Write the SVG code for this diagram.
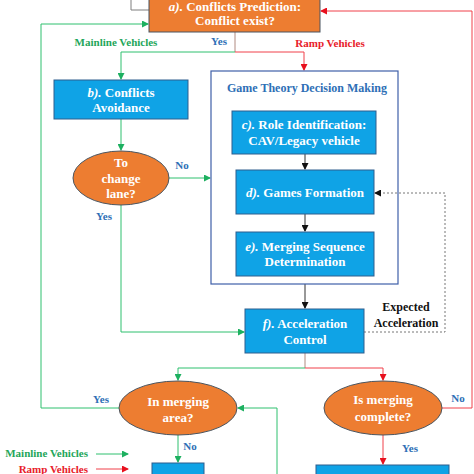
<svg xmlns="http://www.w3.org/2000/svg" width="474" height="474" viewBox="0 0 474 474">
<defs>
<style>
.t{font-family:"Liberation Serif","Times New Roman",serif;font-weight:bold;}
.w{fill:#ffffff;font-size:13px;text-anchor:middle;}
.i{font-style:italic;}
.blue{fill:#0FA3E6;stroke:#2E5E8E;stroke-width:1;}
.or{fill:#ED7D31;stroke:#4A5560;stroke-width:1;}
.g{fill:none;stroke:#2EC06E;stroke-width:1;}
.r{fill:none;stroke:#F0404A;stroke-width:1;}
.k{fill:none;stroke:#333333;stroke-width:1;}
.lb{fill:#2E6FB6;font-size:11px;}
</style>
<marker id="ag" markerWidth="7" markerHeight="7" refX="6" refY="3.5" orient="auto" markerUnits="userSpaceOnUse"><path d="M0,0 L7,3.5 L0,7 z" fill="#1DB060"/></marker>
<marker id="ar" markerWidth="7" markerHeight="7" refX="6" refY="3.5" orient="auto" markerUnits="userSpaceOnUse"><path d="M0,0 L7,3.5 L0,7 z" fill="#E8101E"/></marker>
<marker id="ak" markerWidth="7" markerHeight="7" refX="6" refY="3.5" orient="auto" markerUnits="userSpaceOnUse"><path d="M0,0 L7,3.5 L0,7 z" fill="#111111"/></marker>
</defs>
<rect width="474" height="474" fill="#ffffff"/>
<g id="connectors">
<path d="M131,0 V10 H149" fill="none" stroke="#7F7F7F" stroke-width="1"/>
<path class="g" d="M119,408 H41 V24 H148" marker-end="url(#ag)"/>
<path class="r" d="M442,408 H472 V11 H321" marker-end="url(#ar)"/>
<path d="M235,32 V52" fill="none" stroke="#B08A80" stroke-width="1"/>
<path class="g" d="M235,52 H121 V79" marker-end="url(#ag)"/>
<path class="r" d="M235,52 H304 V70" marker-end="url(#ar)"/>
<path class="g" d="M121,119 V150" marker-end="url(#ag)"/>
<path class="g" d="M169,178 H210" marker-end="url(#ag)"/>
<path class="g" d="M121,205 V332 H244" marker-end="url(#ag)"/>
<path class="k" d="M305,154 V169" marker-end="url(#ak)"/>
<path class="k" d="M305,214 V231" marker-end="url(#ak)"/>
<path class="k" d="M305,284 V308" marker-end="url(#ak)"/>
<path d="M364,332 H445 V193 H375" fill="none" stroke="#777777" stroke-width="1" stroke-dasharray="2,2" marker-end="url(#ak)"/>
<path d="M305,353 V368" fill="none" stroke="#B08A80" stroke-width="1"/>
<path class="g" d="M305,368 H178 V380" marker-end="url(#ag)"/>
<path class="r" d="M305,368 H383 V380" marker-end="url(#ar)"/>
<path class="g" d="M178,435 V462" marker-end="url(#ag)"/>
<path class="g" d="M277,474 V408 H238" marker-end="url(#ag)"/>
<path class="r" d="M383,435 V464" marker-end="url(#ar)"/>
<path class="g" d="M96,454 H128" marker-end="url(#ag)"/>
<path class="r" d="M96,469 H128" marker-end="url(#ar)"/>
</g>
<g id="labels" class="t">
<text x="116" y="46" font-size="11" fill="#1FA65A" text-anchor="middle">Mainline Vehicles</text>
<text class="lb" x="219" y="45" text-anchor="middle">Yes</text>
<text x="330" y="47" font-size="11" fill="#E8202A" text-anchor="middle">Ramp Vehicles</text>
<text class="lb" x="182" y="169" text-anchor="middle">No</text>
<text class="lb" x="104" y="220" text-anchor="middle">Yes</text>
<text x="406" y="311" font-size="12" fill="#111111" text-anchor="middle">Expected</text>
<text x="406" y="327" font-size="12" fill="#111111" text-anchor="middle">Acceleration</text>
<text class="lb" x="101" y="403" text-anchor="middle">Yes</text>
<text class="lb" x="458" y="402" text-anchor="middle">No</text>
<text class="lb" x="190" y="450" text-anchor="middle">No</text>
<text class="lb" x="410" y="452" text-anchor="middle">Yes</text>
<text x="88" y="457" font-size="11" fill="#1FA65A" text-anchor="end">Mainline Vehicles</text>
<text x="88" y="473" font-size="11" fill="#E8202A" text-anchor="end">Ramp Vehicles</text>
</g>
<g id="node-a">
<rect class="or" x="149" y="-20" width="171" height="52"/>
<text class="t w" x="235" y="11"><tspan class="i">a).</tspan> Conflicts Prediction:</text>
<text class="t w" x="235" y="25">Conflict exist?</text>
</g>
<g id="node-b">
<rect class="blue" x="54" y="80" width="134" height="39"/>
<text class="t w" x="121" y="97"><tspan class="i">b).</tspan> Conflicts</text>
<text class="t w" x="121" y="112">Avoidance</text>
</g>
<g id="node-change-lane">
<ellipse class="or" cx="121" cy="178" rx="48" ry="27"/>
<text class="t w" x="121" y="167">To</text>
<text class="t w" x="121" y="183">change</text>
<text class="t w" x="121" y="198">lane?</text>
</g>
<g id="node-game-theory">
<rect x="211" y="71" width="187" height="213" fill="none" stroke="#3F5FA8" stroke-width="1.2"/>
<text class="t" x="307" y="92" font-size="12" fill="#2E6FB6" text-anchor="middle">Game Theory Decision Making</text>
</g>
<g id="node-c">
<rect class="blue" x="232" y="111" width="144" height="43"/>
<text class="t w" x="304" y="129"><tspan class="i">c).</tspan> Role Identification:</text>
<text class="t w" x="304" y="145">CAV/Legacy vehicle</text>
</g>
<g id="node-d">
<rect class="blue" x="236" y="170" width="138" height="44"/>
<text class="t w" x="305" y="197"><tspan class="i">d).</tspan> Games Formation</text>
</g>
<g id="node-e">
<rect class="blue" x="236" y="232" width="138" height="44"/>
<text class="t w" x="305" y="251"><tspan class="i">e).</tspan> Merging Sequence</text>
<text class="t w" x="305" y="266">Determination</text>
</g>
<g id="node-f">
<rect class="blue" x="245" y="309" width="119" height="44"/>
<text class="t w" x="305" y="328"><tspan class="i">f).</tspan> Acceleration</text>
<text class="t w" x="305" y="344">Control</text>
</g>
<g id="node-in-merging">
<ellipse class="or" cx="178" cy="408" rx="59" ry="27"/>
<text class="t w" x="178" y="406">In merging</text>
<text class="t w" x="178" y="422">area?</text>
</g>
<g id="node-merging-complete">
<ellipse class="or" cx="383" cy="408" rx="59" ry="27"/>
<text class="t w" x="383" y="404">Is merging</text>
<text class="t w" x="383" y="421">complete?</text>
</g>
<g id="node-bottom-left">
<rect class="blue" x="152" y="463" width="52" height="20"/>
</g>
<g id="node-bottom-right">
<rect class="blue" x="316" y="465" width="133" height="20"/>
</g>
</svg>
